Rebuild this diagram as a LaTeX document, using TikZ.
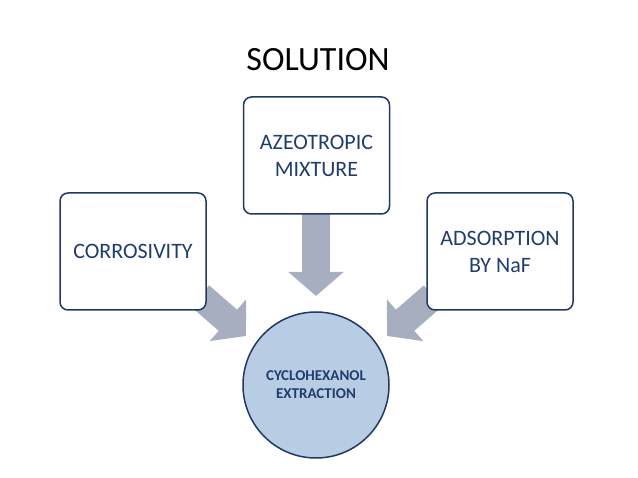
\documentclass[tikz,border=0pt]{standalone}
\usepackage{fontspec}
\setmainfont{Carlito}
\usetikzlibrary{arrows.meta}
\definecolor{navy}{HTML}{1F3864}
\definecolor{txt}{HTML}{1F3D6E}
\definecolor{circfill}{HTML}{B8CCE4}
\definecolor{arr}{HTML}{A7AEC0}
\begin{document}
\begin{tikzpicture}[x=1pt,y=-1pt,
  box/.style={draw=navy,line width=1.5pt,fill=white,rounded corners=8pt,minimum width=146pt,minimum height=117pt,align=center,text=txt,font=\fontsize{22}{27}\selectfont},
  blockarrow/.style={draw=arr,line width=28pt,-{Triangle[width=54pt,length=24pt,fill=arr]}}]
\useasboundingbox (0,0) rectangle (638,478);
\node[font=\fontsize{34}{38}\selectfont] (title) at (318,60) {SOLUTION};
\coordinate (ta) at (316,296);
\coordinate (la) at (246,336);
\coordinate (ra) at (387,336);
\coordinate (ls) at (200,296);
\coordinate (rs) at (433,296);
\draw[blockarrow] (316,212) -- (ta);
\draw[blockarrow] (ls) -- (la);
\draw[blockarrow] (rs) -- (ra);
\node[box] (left) at (133,251.5) {CORROSIVITY};
\node[box] (top) at (316.5,155.5) {AZEOTROPIC\\MIXTURE};
\node[box] (right) at (500,251.5) {ADSORPTION\\BY NaF};
\node[circle,draw=navy,line width=1.5pt,fill=circfill,minimum size=146pt,align=center,text=txt,font=\bfseries\fontsize{15}{18}\selectfont] (c) at (316,385) {CYCLOHEXANOL\\EXTRACTION};
\end{tikzpicture}
\end{document}
